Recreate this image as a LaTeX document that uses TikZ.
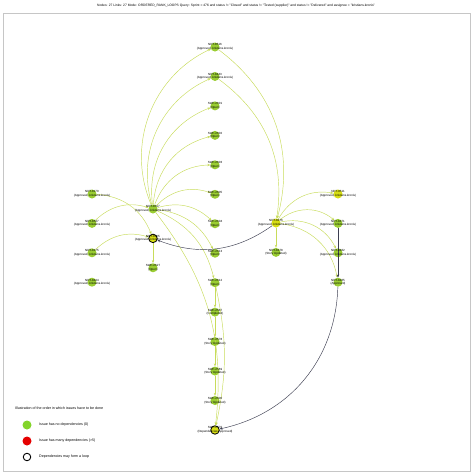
\documentclass[tikz,border=0pt]{standalone}
\usepackage{fontspec}
\setmainfont{Liberation Sans}
\usetikzlibrary{positioning,arrows.meta}

\definecolor{okgreen}{RGB}{154,205,50}
\definecolor{okyellow}{RGB}{215,222,20}
\definecolor{linkc}{RGB}{200,220,90}
\definecolor{loopc}{RGB}{60,62,80}

\tikzstyle{ok} = [circle, fill=okgreen, minimum size=9pt, inner sep=0pt]
\tikzstyle{hot} = [circle, fill=okyellow, minimum size=9pt, inner sep=0pt]
\tikzstyle{loop} = [circle, fill=okyellow, draw=black, line width=0.8pt, minimum size=8.5pt, inner sep=0pt]
\tikzstyle{t} = [align=center, inner sep=0pt, font=\fontsize{3}{3.5}\selectfont]
\tikzstyle{dep} = [->, draw=linkc, line width=0.45pt]
\tikzstyle{back} = [->, draw=loopc, line width=0.45pt]

\begin{document}
\begin{tikzpicture}[x=1pt, y=-1pt, >={Stealth[length=3pt,width=2.4pt]}]
\useasboundingbox (0,0) rectangle (474,474);
\fill [white] (0,0) rectangle (474,474);
\draw [gray!45, line width=0.6pt] (3,13) rectangle (470,471);
\node [t, font=\fontsize{3.3}{4}\selectfont] (head) at (236,6) {Nodes: 27 Links: 27 Mode: ORDERED\_RANK\_LOOPS Query: Sprint = 476 and status != "Closed" and status != "Tested (supplier)" and status != "Delivered" and assignee = "kristians.kronis"};

\node [ok] (c1) at (215,47) {};
\node [ok, below of=c1, node distance=29.46pt] (c2) {};
\node [ok, below of=c2, node distance=29.46pt] (c3) {};
\node [ok, below of=c3, node distance=29.46pt] (c4) {};
\node [ok, below of=c4, node distance=29.46pt] (c5) {};
\node [ok, below of=c5, node distance=29.46pt] (c6) {};
\node [ok, below of=c6, node distance=29.46pt] (c7) {};
\node [ok, below of=c7, node distance=29.46pt] (c8) {};
\node [ok, below of=c8, node distance=29.46pt] (c9) {};
\node [ok, below of=c9, node distance=29.46pt] (c10) {};
\node [ok, below of=c10, node distance=29.46pt] (c11) {};
\node [ok, below of=c11, node distance=29.46pt] (c12) {};
\node [ok, below of=c12, node distance=29.46pt] (c13) {};
\node [loop, below of=c13, node distance=29.46pt] (c14) {};

\node [ok] (l1) at (92,194) {};
\node [ok, below of=l1, node distance=29.4pt] (l2) {};
\node [ok, below of=l2, node distance=29.4pt] (l3) {};
\node [ok, below of=l3, node distance=29.4pt] (l4) {};

\node [ok] (m1) at (153,209) {};
\node [loop, below of=m1, node distance=29.4pt] (m2) {};
\node [ok, below of=m2, node distance=29.4pt] (m3) {};

\node [hot] (k1) at (276,223) {};
\node [ok, below of=k1, node distance=29.4pt] (k2) {};

\node [hot] (r1) at (338,194) {};
\node [ok, below of=r1, node distance=29.4pt] (r2) {};
\node [ok, below of=r2, node distance=29.4pt] (r3) {};
\node [ok, below of=r3, node distance=29.4pt] (r4) {};

\draw [dep] (m1) to [bend left=44] (c1);
\draw [dep] (m1) to [bend left=41] (c2);
\draw [dep] (m1) to [bend left=38] (c3);
\draw [dep] (m1) to [bend left=36] (c4);
\draw [dep] (m1) to [bend left=34] (c5);
\draw [dep] (m1) to [bend left=32] (c6);
\draw [dep] (m1) to [bend left=30] (c7);
\draw [dep] (m1) to [bend left=28] (c8);
\draw [dep] (m1) to [bend left=26] (c9);
\draw [dep] (m1) to [bend left=22] (c14);
\draw [dep] (c1) to [bend left=34] (k1);
\draw [dep] (c2) to [bend left=31] (k1);
\draw [dep] (l1) to [bend left=32] (m2);
\draw [dep] (l2) to [bend left=30] (m1);
\draw [dep] (l3) to [bend left=30] (m2);
\draw [dep] (m2) -- (m3);
\draw [dep] (k1) to [bend left=35] (r1);
\draw [dep] (k1) to [bend left=40] (r2);
\draw [dep] (k1) to [bend left=38] (r3);
\draw [dep] (k1) to [bend left=36] (r4);
\draw [dep] (k1) -- (k2);
\draw [dep] (c9) -- (c10);
\draw [dep] (c10) -- (c11);
\draw [dep] (c11) -- (c12);
\draw [dep] (c12) -- (c13);
\draw [dep] (c9) to [bend left=12] (c14);
\draw [back] (k1) to [bend left=28] (m2);
\draw [back] (r2) -- (r4);
\draw [back] (r4) to [bend left=38] (c14);

\node [t] at (c1) {NDT-8516\\(Approved, kristians.kronis)};
\node [t] at (c2) {NDT-8443\\(Approved, kristians.kronis)};
\node [t] at (c3) {SWF-2601\\(Open)};
\node [t] at (c4) {SWF-2602\\(Open)};
\node [t] at (c5) {SWF-2603\\(Open)};
\node [t] at (c6) {SWF-2605\\(Open)};
\node [t] at (c7) {SWF-2604\\(Open)};
\node [t] at (c8) {SWF-2613\\(Open)};
\node [t] at (c9) {SWF-2612\\(Open)};
\node [t] at (c10) {SWF-2587\\(Completed)};
\node [t] at (c11) {SWF-2578\\(Story Updated)};
\node [t] at (c12) {SWF-2569\\(Story Updated)};
\node [t] at (c13) {SWF-2600\\(Story Updated)};
\node [t] at (c14) {SWF-2570\\(Dependencies Approved)};
\node [t] at (l1) {NDT-8170\\(Approved, kristians.kronis)};
\node [t] at (l2) {NDT-8537\\(Approved, kristians.kronis)};
\node [t] at (l3) {NDT-8175\\(Approved, kristians.kronis)};
\node [t] at (l4) {NDT-8444\\(Approved, kristians.kronis)};
\node [t] at (m1) {NDT-8517\\(Approved, kristians.kronis)};
\node [t] at (m2) {NDT-8065\\(Approved, kristians.kronis)};
\node [t] at (m3) {SWF-2627\\(Open)};
\node [t] at (k1) {NDT-8476\\(Approved, kristians.kronis)};
\node [t] at (k2) {NDT-8178\\(Story Updated)};
\node [t] at (r1) {NDT-8511\\(Approved, kristians.kronis)};
\node [t] at (r2) {NDT-8471\\(Approved, kristians.kronis)};
\node [t] at (r3) {NDT-8462\\(Approved, kristians.kronis)};
\node [t] at (r4) {NDT-8465\\(Approved)};

\node [t, anchor=west, font=\fontsize{3.6}{4}\selectfont] (ltitle) at (15,408) {Illustration of the order in which issues have to be done};
\node [circle, fill=okgreen!85!green, minimum size=9pt, inner sep=0pt] (lg1) at (27,425) {};
\node [circle, fill=red!90!black, minimum size=9pt, inner sep=0pt] (lg2) at (27,441) {};
\node [circle, draw=black, line width=0.9pt, minimum size=7.5pt, inner sep=0pt] (lg3) at (27,457) {};
\node [t, anchor=west, font=\fontsize{3.6}{4}\selectfont] at (39,425) {Issue has no dependencies (0)};
\node [t, anchor=west, font=\fontsize{3.6}{4}\selectfont] at (39,441) {Issue has many dependencies (>5)};
\node [t, anchor=west, font=\fontsize{3.6}{4}\selectfont] at (39,457) {Dependencies may form a loop};
\end{tikzpicture}
\end{document}
